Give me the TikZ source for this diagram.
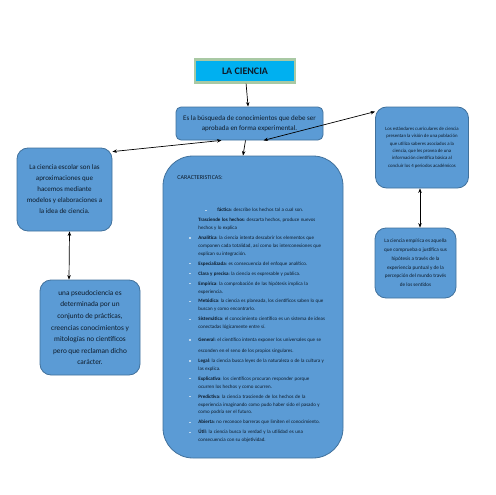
\documentclass[tikz,border=0pt]{standalone}
\usepackage{fontspec}
\setmainfont{Carlito}
\usetikzlibrary{arrows.meta, positioning}
\definecolor{cazul}{HTML}{5B9BD5}
\definecolor{cborde}{HTML}{41719C}
\definecolor{ccielo}{HTML}{00B0F0}
\definecolor{cverde}{HTML}{A9C9A4}
\definecolor{ctexto}{HTML}{0D1B2A}
\definecolor{cvineta}{HTML}{BDD7EE}
\newcommand{\rasgo}[2]{\par\hangindent=21pt\hangafter=0\noindent\llap{\textcolor{cvineta}{\rule[1pt]{2pt}{1.2pt}}\hspace{7pt}}\textbf{#1}: #2\par}
\tikzset{
  every picture/.style={line width=0.8pt},
  caja/.style={draw=cborde, fill=cazul, rounded corners=#1, align=center, text=ctexto, inner sep=2pt},
  caja/.default=11pt,
  flecha/.style={-{Stealth[length=4.5pt,width=3.5pt]}, draw=black, line width=0.7pt},
  doble/.style={{Stealth[length=4.5pt,width=3.5pt]}-{Stealth[length=4.5pt,width=3.5pt]}, draw=black, line width=0.7pt},
}

\begin{document}
\begin{tikzpicture}[x=1pt, y=-1pt]
  \fill[white] (0,0) rectangle (495,495);
  \useasboundingbox (0,0) rectangle (495,495);
  \node[draw=cverde, line width=2.2pt, fill=ccielo, minimum width=100pt, minimum height=23pt, font=\fontsize{10}{12}\selectfont\bfseries, text=ctexto] (titulo) at (245,71) {LA CIENCIA};
  \node[caja=5pt, minimum width=147pt, minimum height=33pt, font=\fontsize{7}{10}\selectfont] (busqueda) at (249.5,123.5) {Es la búsqueda de conocimientos que debe ser\\aprobada en forma experimental.};
  \node[caja, minimum width=95pt, minimum height=83pt, font=\fontsize{7}{11}\selectfont] (escolar) at (64.5,189.5) {La ciencia escolar son las\\aproximaciones que\\hacemos mediante\\modelos y elaboraciones a\\la idea de ciencia.};
  \node[caja, minimum width=100pt, minimum height=95pt, font=\fontsize{7.3}{11.6}\selectfont] (pseudo) at (90,327.5) {una pseudociencia es\\determinada por un\\conjunto de prácticas,\\creencias conocimientos y\\mitologías no científicos\\pero que reclaman dicho\\carácter.};
  \node[caja, minimum width=93pt, minimum height=81pt, font=\fontsize{4.8}{7.4}\selectfont] (estandares) at (422,147.5) {Los estándares curriculares de ciencia\\presentan la visión de una población\\que utiliza saberes asociados a la\\ciencia, que les provea de una\\información científica básica al\\concluir los 4 periodos académicos};
  \node[caja, minimum width=81pt, minimum height=70pt, font=\fontsize{5.2}{8.8}\selectfont] (empirica) at (415.5,263) {La ciencia empírica es aquella\\que comprueba o justifica sus\\hipótesis a través de la\\experiencia puntual y de la\\percepción del mundo través\\de los sentidos};
  \node[caja=30pt, minimum width=180pt, minimum height=302pt] (rasgos) at (253,307) {};
  \node[anchor=west, inner sep=0pt, text=ctexto, font=\fontsize{6}{8}\selectfont] (caract) at (177,178) {CARACTERISTICAS:};
  \node[anchor=north west, inner sep=0pt, text width=148pt, align=left, text=ctexto] (lista) at (177,208) {%
    \fontsize{5}{7.9}\selectfont\setlength{\parskip}{2pt}\frenchspacing\spaceskip=1.35pt plus 0.2pt\hyphenpenalty=10000
    {\hangindent=40pt\hangafter=0\noindent\llap{\textcolor{cvineta}{\rule[1pt]{2pt}{1.2pt}}\hspace{10pt}}\textbf{fáctica}: describe los hechos tal a cual son.\par}
    {\hangindent=21pt\hangafter=0\noindent\textbf{Trasciende los hechos}: descarta hechos, produce nuevos hechos y lo explica\par}
    \rasgo{Analítica}{la ciencia intenta descubrir los elementos que componen cada totalidad, así como las interconexiones que explican su integración.}
    \rasgo{Especializada}{es consecuencia del enfoque analítico.}
    \rasgo{Clara y precisa}{la ciencia es expresable y publica.}
    \rasgo{Empírica}{la comprobación de las hipótesis implica la experiencia.}
    \rasgo{Metódica}{la ciencia es planeada, los científicos saben lo que buscan y como encontrarlo.}
    \rasgo{Sistemática}{el conocimiento científico es un sistema de ideas conectadas lógicamente entre sí.}
    {\fontsize{5}{11}\selectfont\rasgo{General}{el científico intenta exponer los universales que se esconden en el seno de los propios singulares.}}
    \rasgo{Legal}{la ciencia busca leyes de la naturaleza o de la cultura y las explica.}
    \rasgo{Explicativa}{los científicos procuran responder porque ocurren los hechos y como ocurren.}
    \rasgo{Predictiva}{la ciencia trasciende de los hechos de la experiencia imaginando como pudo haber sido el pasado y como podría ser el futuro.}
    \rasgo{Abierta}{no reconoce barreras que limiten el conocimiento.}
    \rasgo{Útil}{la ciencia busca la verdad y la utilidad es una consecuencia con su objetividad.}};
  % conectores
  \draw[flecha] (titulo) -- (busqueda);
  \draw[flecha] ([xshift=-4pt]busqueda.south) -- ([xshift=-10pt]rasgos.north);
  \draw[doble] ([yshift=-4pt]escolar.north east) -- ([xshift=-28pt]busqueda.south);
  \draw[doble] ([xshift=14pt]busqueda.south) -- ([yshift=-5pt]estandares.north west);
  \draw[doble] ([xshift=5pt]escolar.south) -- ([xshift=-21pt]pseudo.north);
  \draw[doble] ([xshift=-2pt]estandares.south) -- ([xshift=4.5pt]empirica.north);
\end{tikzpicture}
\end{document}
